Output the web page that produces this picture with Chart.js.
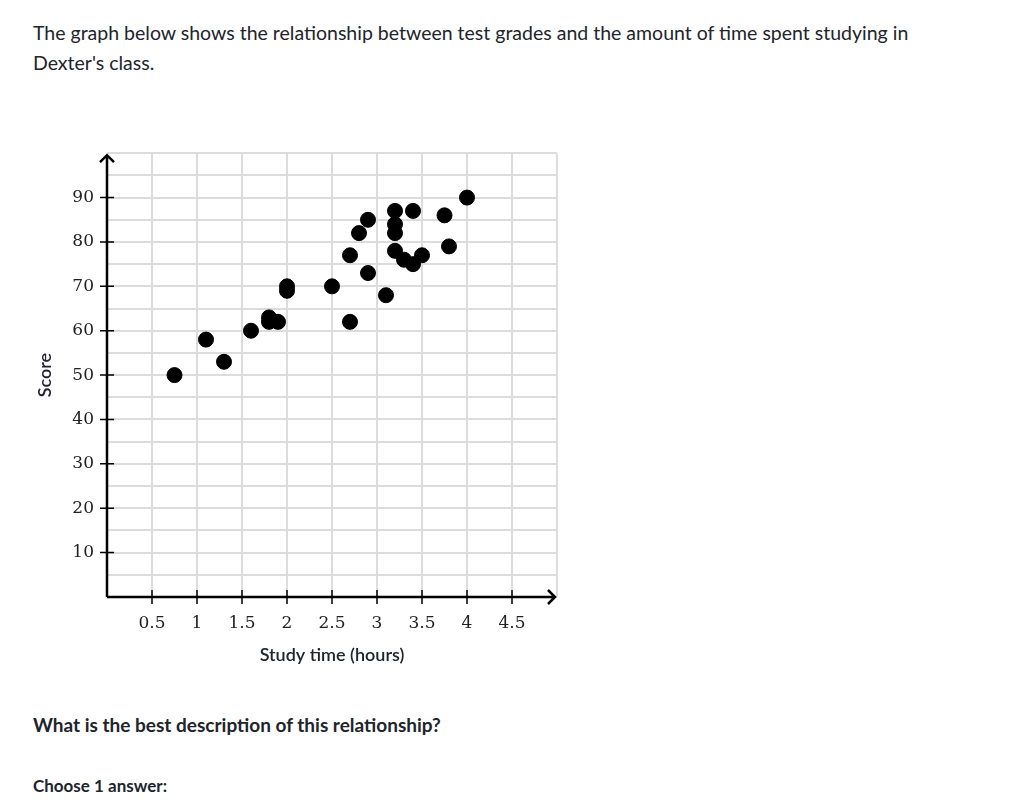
<!DOCTYPE html>
<html>
<head>
<meta charset="utf-8">
<script src="https://cdn.jsdelivr.net/npm/chart.js@4"></script>
<style>
  body { margin: 0; width: 1024px; height: 811px; background: #fff; font-family: Lato, sans-serif; color: #21242c; position: relative; overflow: hidden; }
  .intro { position: absolute; left: 33px; top: 18px; width: 945px; font-size: 19.5px; line-height: 30px; }
  .q { position: absolute; left: 33px; top: 713px; font-size: 19px; font-weight: bold; }
  .choose { position: absolute; left: 33px; top: 775px; font-size: 17px; font-weight: bold; }
  #wrap { position: absolute; left: 30px; top: 130px; width: 560px; height: 540px; }
</style>
</head>
<body>
<div class="intro">The graph below shows the relationship between test grades and the amount of time spent studying in Dexter's class.</div>
<div id="wrap"><canvas id="c"></canvas></div>
<div class="q">What is the best description of this relationship?</div>
<div class="choose">Choose 1 answer:</div>
<script>
// study time (hours) vs score
const studyHours = [0.75, 1.1, 1.3, 1.6, 1.8, 1.8, 1.9, 2, 2, 2.5, 2.7, 2.7, 2.8, 2.9, 2.9, 3.1, 3.2, 3.2, 3.2, 3.2, 3.3, 3.4, 3.4, 3.5, 3.75, 3.8, 4]
const scores = [50, 58, 53, 60, 63, 62, 62, 70, 69, 70, 77, 62, 82, 85, 73, 68, 87, 84, 82, 78, 76, 75, 87, 77, 86, 79, 90]
const xTickLabels = [0.5, 1, 1.5, 2, 2.5, 3, 3.5, 4, 4.5]
const yTickLabels = [10, 20, 30, 40, 50, 60, 70, 80, 90]

const serif = { family: '"DejaVu Serif", serif', size: 17 }

// black axes with arrows and crossing tick marks
const axesPlugin = {
  id: 'axes',
  afterDatasetsDraw(chart) {
    const { ctx, chartArea: a, scales: { x, y } } = chart
    const x0 = x.getPixelForValue(0), y0 = y.getPixelForValue(0)
    ctx.save()
    ctx.strokeStyle = '#000'
    ctx.lineWidth = 2.5
    ctx.beginPath()
    ctx.moveTo(x0, y0); ctx.lineTo(x0, a.top + 2)
    ctx.moveTo(x0 - 7, a.top + 9); ctx.lineTo(x0, a.top + 2); ctx.lineTo(x0 + 7, a.top + 9)
    ctx.moveTo(x0, y0); ctx.lineTo(a.right - 2, y0)
    ctx.moveTo(a.right - 9, y0 - 7); ctx.lineTo(a.right - 2, y0); ctx.lineTo(a.right - 9, y0 + 7)
    ctx.stroke()
    ctx.lineWidth = 1.5
    ctx.beginPath()
    for (const v of yTickLabels) { const p = y.getPixelForValue(v); ctx.moveTo(x0 - 7, p); ctx.lineTo(x0 + 7, p) }
    for (const v of xTickLabels) { const p = x.getPixelForValue(v); ctx.moveTo(p, y0 - 7); ctx.lineTo(p, y0 + 7) }
    ctx.stroke()
    ctx.restore()
  }
}

new Chart(document.getElementById('c'), {
  type: 'scatter',
  data: {
    datasets: [{
      data: studyHours.map((h, i) => ({ x: h, y: scores[i] })),
      backgroundColor: '#000',
      borderColor: '#000',
      pointRadius: 7.5,
      pointHoverRadius: 7.5,
    }]
  },
  plugins: [axesPlugin],
  options: {
    responsive: true,
    maintainAspectRatio: false,
    animation: false,
    layout: { padding: { top: 10, right: 33, left: 0, bottom: 0 } },
    plugins: { legend: { display: false }, tooltip: { enabled: false } },
    scales: {
      x: {
        type: 'linear', min: 0, max: 5,
        afterFit: s => { s.height = 73 },
        border: { display: false },
        grid: { color: '#dcdcdc', lineWidth: 2, drawTicks: false },
        ticks: {
          stepSize: 0.5, padding: 16, color: '#222', font: serif, maxRotation: 0, autoSkip: false,
          callback: v => xTickLabels.includes(v) ? String(v) : ''
        },
        title: { display: true, text: 'Study time (hours)', color: '#21242c', font: { family: 'Lato', size: 18, weight: '600' }, padding: { top: 0 } }
      },
      y: {
        type: 'linear', min: 0, max: 100,
        afterFit: s => { s.width = 77 },
        border: { display: false },
        grid: { color: '#dcdcdc', lineWidth: 2, drawTicks: false },
        ticks: {
          stepSize: 5, padding: 13, color: '#222', font: serif, autoSkip: false,
          callback: v => yTickLabels.includes(v) ? String(v) : ''
        },
        title: { display: true, text: 'Score', color: '#21242c', font: { family: 'Lato', size: 18, weight: '600' }, padding: { bottom: 0 } }
      }
    }
  }
})
</script>
</body>
</html>
